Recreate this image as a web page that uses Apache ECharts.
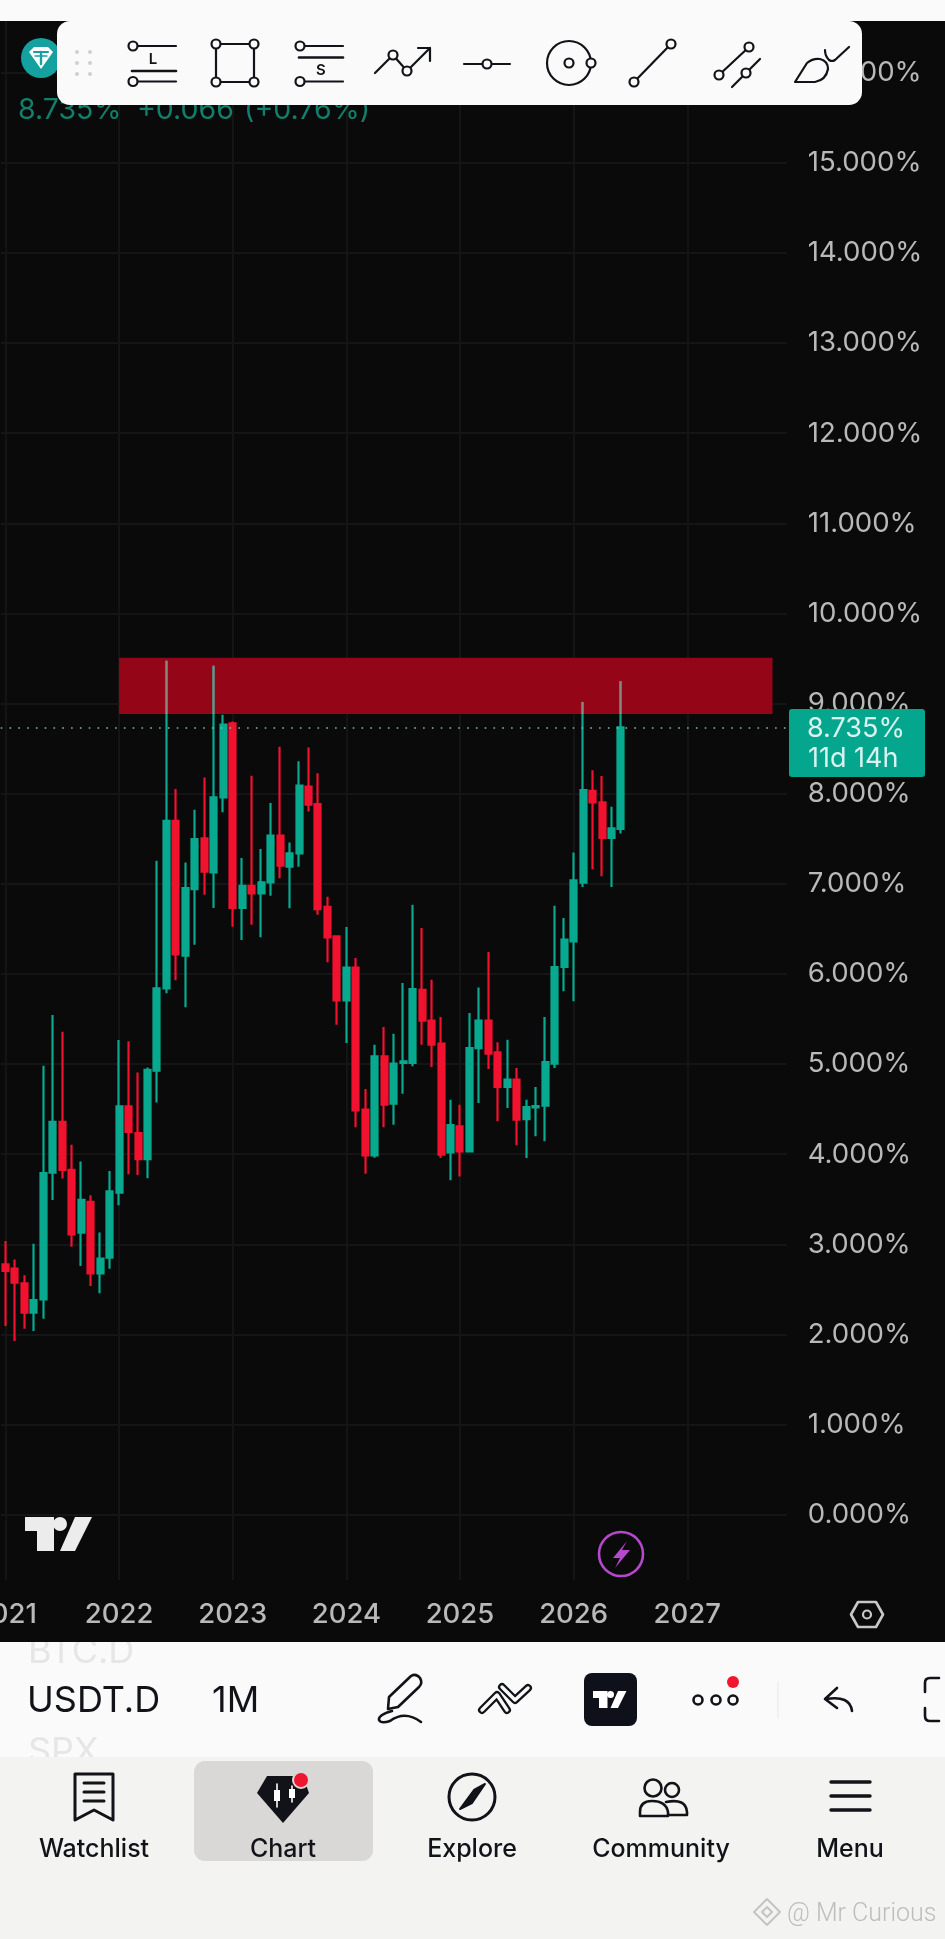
<!DOCTYPE html>
<html><head><meta charset="utf-8">
<style>html,body{margin:0;padding:0;background:#0a0a0a}#c{width:945px;height:1939px}</style>
<script src="https://cdn.jsdelivr.net/npm/echarts@6/dist/echarts.min.js"></script>
</head><body><div id="c"></div>
<script>
// USDT.D monthly candles, January 2021 onwards (in %)
const opens  = [2.778,2.73,2.567,2.241,2.389,3.796,4.359,3.826,3.13,3.47,2.678,2.852,3.574,4.53,4.233,3.944,4.926,5.84,7.7,6.203,6.942,7.504,7.127,7.959,8.78,6.732,6.979,6.894,7.016,7.534,7.19,7.338,8.078,7.885,6.746,6.417,5.707,6.07,4.494,3.987,5.086,4.561,5.012,5.012,5.825,5.482,5.226,4.021,4.309,4.032,5.178,5.482,5.13,4.746,4.827,4.39,4.52,4.538,5.004,6.077,6.362,7.013,8.032,7.905,7.51,7.609];
const closes = [2.704,2.574,2.241,2.381,3.789,4.359,3.826,3.111,3.493,2.678,2.841,3.589,4.53,4.248,3.944,4.937,5.84,7.7,6.217,6.953,7.497,7.135,7.959,8.766,6.732,6.979,6.894,7.016,7.534,7.201,7.338,8.089,7.878,6.72,6.406,5.707,6.07,4.487,3.987,5.086,4.55,5.004,5.03,5.833,5.482,5.215,3.995,4.324,4.032,5.178,5.482,5.115,4.746,4.827,4.383,4.524,4.535,5.023,6.077,6.38,7.038,8.039,7.905,7.51,7.617,8.735];
const lows   = [2.093,1.926,2.063,2.037,2.174,3.493,3.73,2.974,2.759,2.537,2.456,2.73,3.433,3.778,3.77,3.733,4.574,5.785,5.93,5.63,6.325,6.879,6.732,7.793,6.524,6.376,6.547,6.406,6.868,7.061,6.728,7.19,7.804,6.658,6.129,5.437,5.234,4.298,3.784,3.96,4.298,4.328,4.672,4.975,5.215,4.967,3.958,3.71,3.754,4.02,4.568,4.945,4.365,4.513,4.098,3.958,4.198,4.143,4.956,5.807,5.696,6.965,7.163,7.084,6.965,7.558];
const highs  = [3.037,2.833,2.656,3.007,4.981,5.544,5.359,4.104,3.919,3.544,3.13,3.815,5.267,5.252,4.907,4.963,7.257,9.476,8.052,7.238,7.822,8.181,9.42,8.876,8.8,7.286,8.2,7.386,7.896,8.521,7.46,8.359,8.514,8.226,6.857,6.43,6.521,6.177,4.723,5.215,5.411,5.337,5.9,6.769,6.51,5.936,5.522,4.605,4.55,5.567,5.851,6.243,5.241,5.271,4.956,4.605,4.746,5.522,6.757,6.621,7.349,9.019,8.261,8.197,7.854,9.248];
const yearLabels = ['2021','2022','2023','2024','2025','2026','2027'];
const priceTicks = [0,1,2,3,4,5,6,7,8,9,10,11,12,13,14,15,16];
const lastPrice = 8.735;
const zoneTop = 9.508, zoneBottom = 8.884;
const zoneStart = '2022-01', zoneEnd = '2027-10';

const months = [];
yearLabels.forEach(y => { for (let m = 1; m <= 12; m++) { if (months.length < 83) months.push(y + '-' + String(m).padStart(2, '0')); } });
const candles = opens.map((o, i) => [o, closes[i], lows[i], highs[i]]);
const zoneWicks = highs.map(h => h > zoneBottom ? [zoneBottom, zoneBottom, zoneBottom, h] : '-');

const ink = '#111318', FONT = 'Inter, "Noto Sans", sans-serif';
let pathCount = 0;
const R = (x, y, w, h, r, fill, o = {}) => ({type:'rect', shape:{x, y, width:w, height:h, r}, style:{fill, ...o}});
const C = (x, y, r, o = {}) => ({type:'circle', shape:{cx:x, cy:y, r}, style:{fill:'#fafafa', stroke:ink, lineWidth:2.2, ...o}});
const L = (pts, o = {}) => ({type:'polyline', shape:{points:pts}, style:{fill:null, stroke:ink, lineWidth:2.2, lineCap:'round', lineJoin:'round', ...o}});
const P = (d, o = {}) => {
  const name = 'iconPath' + (pathCount++);
  echarts.graphic.registerShape(name, echarts.graphic.extendPath(d, {}));
  return {type:name, style:{fill:null, stroke:ink, lineWidth:2.2, lineCap:'round', lineJoin:'round', ...o}};
};
const T = (text, x, y, font, fill, align = 'left') => ({type:'text', style:{text, x, y, font, fill, align, verticalAlign:'middle'}});
const logo = (x, y, s, fill) => [
  P(`M${x},${y}h${29*s}v${34*s}h${-17*s}v${-20*s}h${-12*s}z`, {fill, stroke:null}),
  C(x+35*s, y+7*s, 7*s, {fill, stroke:null}),
  P(`M${x+50*s},${y}h${17*s}l${-17*s},${34*s}h${-15*s}z`, {fill, stroke:null})
];

const chrome = [
  // chart overlays
  ...logo(25, 1517, 1, '#ececec'),
  C(621, 1554, 22, {fill:null, stroke:'#b548cb', lineWidth:2.6}),
  P('M627,1541L613,1558L620,1558L615,1568L630,1550L622,1550Z', {fill:'#b548cb', stroke:null}),
  P('M858,1602L876,1602L883,1614.5L876,1627L858,1627L851,1614.5Z', {stroke:'#c8c8c8', lineWidth:2.6}),
  C(867, 1614.5, 4, {fill:null, stroke:'#c8c8c8', lineWidth:2.2}),
  // price badge
  R(789, 709, 136, 68, 3, '#05a68e'),
  T('8.735%', 807, 729, '400 27px '+FONT, '#d9f3ee'),
  T('11d 14h', 808, 759, '400 27px '+FONT, '#d9f3ee'),
  // header
  C(41, 58, 20, {fill:'#14a19f', stroke:null}),
  P('M29,52L34,47H48L53,52L41,69Z', {fill:'#fff', stroke:null}),
  L([[34,52],[48,52]], {stroke:'#14a19f', lineWidth:2}), L([[41,52],[41,64]], {stroke:'#14a19f', lineWidth:2.4}), L([[35,56],[47,56]], {stroke:'#14a19f', lineWidth:1.4}),
  T('8.735%', 18, 110, '400 28.5px '+FONT, '#127f6c'),
  T('+0.066', 137, 110, '400 28.5px '+FONT, '#127f6c'),
  T('(+0.76%)', 244, 110, '400 28.5px '+FONT, '#127f6c'),
  R(0, 0, 945, 21, 0, '#fafafa'),
  R(57, 21, 805, 84, 13, '#fafafa'),
  // toolbar icons
  ...[52,63,74].flatMap(y => [C(77, y, 2, {fill:'#d0d0d0', stroke:null}), C(90, y, 2, {fill:'#d0d0d0', stroke:null})]),
  L([[133,46],[176,46]]), L([[132,71],[176,71]], {lineWidth:2.6}), L([[133,81.5],[176,81.5]]), C(133,46,4.5), C(133,81.5,4.5),
  T('L', 153, 59, '600 15px '+FONT, ink, 'center'),
  P('M216,44H254V82H216Z'), C(216,44,4.5), C(254,44,4.5), C(216,82,4.5), C(254,82,4.5),
  L([[300,46],[343,46]]), L([[299,57.5],[343,57.5]], {lineWidth:2.6}), L([[300,81.5],[343,81.5]]), C(300,46,4.5), C(300,81.5,4.5),
  T('S', 321, 70, '600 15px '+FONT, ink, 'center'),
  L([[375,73],[393,55],[407,71],[430,48]]), L([[418,48],[430,48],[430,61]]), C(393,55,4.5), C(407,71,4.5),
  L([[464,64],[510,64]]), C(487,64,4.5),
  C(569,63,22,{fill:null}), C(569,63,4.5), C(591,63,4.5),
  L([[634,82],[671,44]]), C(634,82,4.5), C(671,44,4.5),
  L([[719,75],[749,47]]), L([[732,87],[760,59]]), C(719,75,4.5), C(749,47,4.5), C(746,73,4.5),
  P('M795,82L807,63Q813,58 820,59Q828,61 828,69Q826,80 815,82Z'),
  P('M825,50Q825,56 829,60Q832,62 835,60L849,47'),
  // bottom bars
  R(0, 1642, 945, 115, 0, '#fafafa'),
  T('BTC.D', 28, 1652, '400 36px '+FONT, '#e6e6e6'),
  R(0, 1630, 945, 12, 0, '#0a0a0a'),
  T('SPX', 28, 1752, '400 36px '+FONT, '#e6e6e6'),
  R(0, 1757, 945, 182, 0, '#f3f3f2'),
  T('USDT.D', 27, 1701, '400 36px '+FONT, ink),
  T('1M', 212, 1701, '400 36px '+FONT, ink),
  P('M388,1709L389,1697L411,1676Q416,1673 420,1678Q423,1683 419,1687L398,1707Z', {lineWidth:2.6}),
  P('M392,1711Q378,1715 379,1720Q381,1724 390,1721Q405,1710 421,1722', {lineWidth:2.6}),
  L([[482,1710],[497,1695],[507,1710]], {lineWidth:8}), L([[502,1687],[515,1700],[528,1688]], {lineWidth:8}),
  L([[482,1710],[497,1695],[507,1710]], {lineWidth:3.4, stroke:'#fafafa'}), L([[502,1687],[515,1700],[528,1688]], {lineWidth:3.4, stroke:'#fafafa'}),
  R(584, 1673, 53, 53, 8, '#0f111a'),
  ...logo(593, 1691, 0.5, '#ffffff'),
  C(698,1700,4.5,{lineWidth:2.6}), C(716,1700,4.5,{lineWidth:2.6}), C(733,1700,4.5,{lineWidth:2.6}),
  C(733,1682,6,{fill:'#f0162f', stroke:null}),
  L([[778,1682],[778,1718]], {stroke:'#eeeeee', lineWidth:1.5}),
  P('M837,1688L825,1699L837,1708M826,1699Q850,1695 852,1711', {lineWidth:2.6}),
  P('M939,1678H930Q925,1678 925,1683V1692M925,1708V1716Q925,1721 930,1721H939', {lineWidth:2.6}),
  // navigation
  R(194, 1761, 179, 100, 11, '#d9d8d7'),
  P('M75,1774H113V1820L94,1810L75,1820Z', {lineWidth:3}),
  L([[84,1783],[104,1783]],{lineWidth:3}), L([[84,1792],[104,1792]],{lineWidth:3}), L([[84,1801],[104,1801]],{lineWidth:3}),
  P('M267,1776H303L309,1793L283,1823L257,1793Z', {fill:'#111318', stroke:null}),
  L([[277,1784],[277,1807]],{stroke:'#fff',lineWidth:1.6}), R(274,1790,6,11,0,'#fff'),
  L([[292,1786],[292,1802]],{stroke:'#fff',lineWidth:1.6}), R(289,1789,6,9,0,'#fff'),
  C(301,1780,8,{fill:'#f0162f', stroke:'#d9d8d7', lineWidth:2}),
  C(472,1797,23,{fill:null,lineWidth:3}),
  P('M485,1784L474,1790L460,1809L472,1803Z', {fill:ink, stroke:ink, lineWidth:2}),
  C(653,1788,8.5,{fill:null,lineWidth:2.6}), C(672,1790,7,{fill:null,lineWidth:2.6}),
  P('M640,1816V1812Q640,1801 652,1801Q666,1801 668,1812V1816Z', {lineWidth:2.6}),
  P('M666,1802Q686,1798 687,1812V1815H669', {lineWidth:2.6}),
  L([[831,1782],[870,1782]],{lineWidth:3.4}), L([[831,1796],[870,1796]],{lineWidth:3.4}), L([[831,1810],[870,1810]],{lineWidth:3.4}),
  T('Watchlist', 94, 1849, '500 25px '+FONT, ink, 'center'),
  T('Chart', 283, 1849, '500 25px '+FONT, ink, 'center'),
  T('Explore', 472, 1849, '500 25px '+FONT, ink, 'center'),
  T('Community', 661, 1849, '500 25px '+FONT, ink, 'center'),
  T('Menu', 850, 1849, '500 25px '+FONT, ink, 'center'),
  P('M767,1899L780,1912L767,1925L754,1912Z', {stroke:'#c4c4c4', lineWidth:2}),
  P('M767,1907L772,1912L767,1917L762,1912Z', {stroke:'#c4c4c4', lineWidth:2}),
  T('@ Mr Curious', 787, 1915, '300 25px Roboto, sans-serif', '#bdbdbd')
].map((e, i) => ({...e, silent:true, z:100 + i}));

const chart = echarts.init(document.getElementById('c'), null, {renderer:'canvas'});
chart.setOption({
  animation:false,
  backgroundColor:'#0a0a0a',
  grid:{left:0.7, right:158.3, top:21, bottom:359, containLabel:false, outerBoundsMode:'none'},
  xAxis:{
    type:'category', data:months, boundaryGap:true,
    axisLine:{show:false}, axisTick:{show:false},
    axisLabel:{interval:(i, v) => v.endsWith('-01'), formatter:v => v.slice(0, 4), color:'#b9b9b9', fontFamily:FONT, fontWeight:500, fontSize:27.5, margin:21, hideOverlap:false, showMinLabel:true},
    splitLine:{show:true, alignWithLabel:true, interval:(i, v) => String(v).endsWith('-01'), lineStyle:{color:'#141414', width:2}}
  },
  yAxis:{
    type:'value', position:'right', min:-0.7246, max:16.574, scale:false,
    axisLine:{show:false}, axisTick:{show:false, customValues:priceTicks},
    axisLabel:{customValues:priceTicks, formatter:v => v.toFixed(3) + '%', color:'#b9b9b9', fontFamily:FONT, fontSize:27.6, align:'left', margin:21, padding:[7,0,0,0]},
    splitLine:{show:true, lineStyle:{color:'#151515', width:2}}
  },
  series:[
    {type:'candlestick', name:'USDT.D', data:candles, barWidth:6.5, z:3,
     itemStyle:{color:'#08a98f', color0:'#f0122f', borderColor:'#08a98f', borderColor0:'#f0122f', borderWidth:2.2},
     markArea:{silent:true, itemStyle:{color:'rgba(152,5,24,0.97)'}, data:[[{xAxis:zoneStart, yAxis:zoneTop},{xAxis:zoneEnd, yAxis:zoneBottom}]]},
     markLine:{silent:true, symbol:'none', label:{show:false}, lineStyle:{color:'#7cbcae', type:[1.6,7.2], width:1.6}, data:[{yAxis:lastPrice}]}},
    {type:'candlestick', name:'zone wicks', data:zoneWicks, barWidth:1, z:4,
     itemStyle:{color:'#86867e', color0:'#86867e', borderColor:'#86867e', borderColor0:'#86867e', borderWidth:2.2}}
  ],
  graphic:{elements:chrome}
});
</script></body></html>
